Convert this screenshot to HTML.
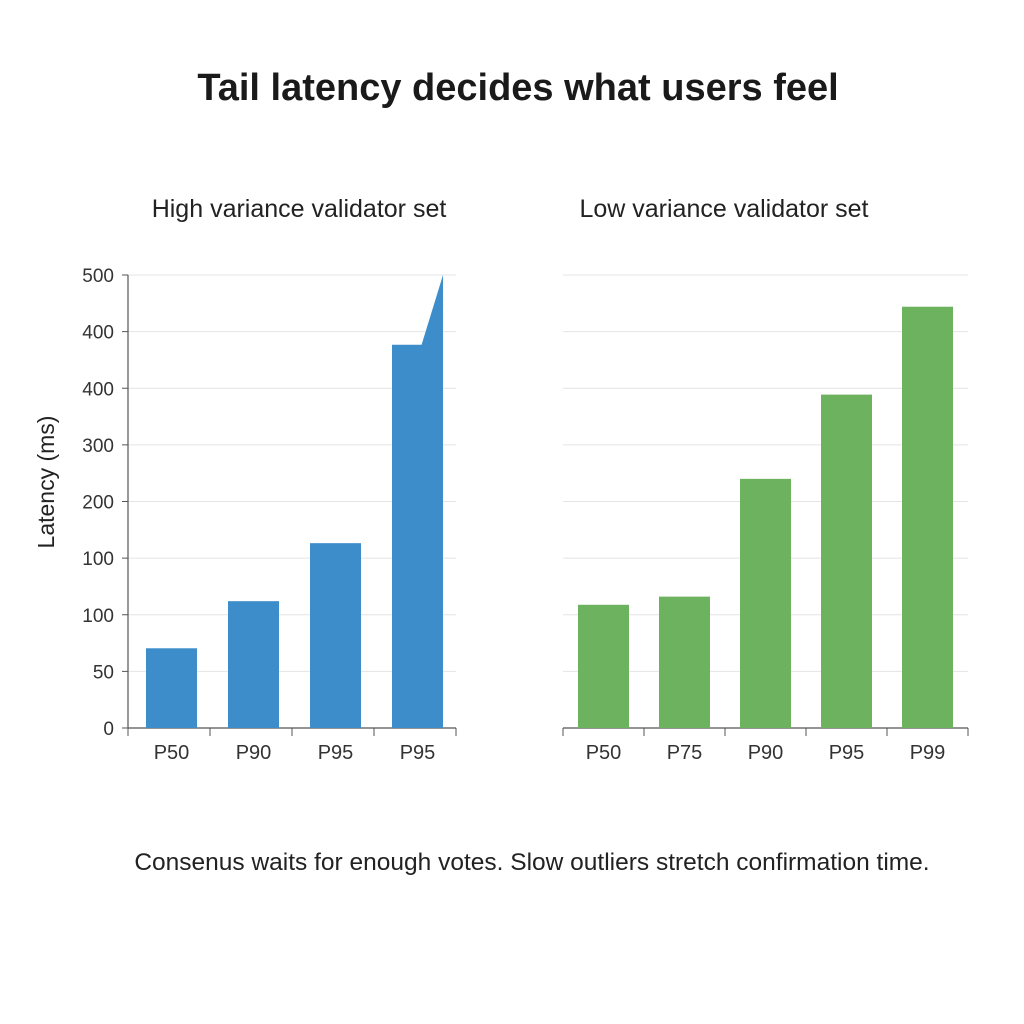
<!DOCTYPE html>
<html><head><meta charset="utf-8"><style>
body{margin:0;background:#fff;}
svg{display:block;font-family:"Liberation Sans",sans-serif;}
</style></head><body>
<svg id="c" width="1024" height="1024" viewBox="0 0 1024 1024">
<rect width="1024" height="1024" fill="#fff"/>
<text x="518" y="100" text-anchor="middle" font-size="38" font-weight="bold" fill="#1a1a1a">Tail latency decides what users feel</text>
<text x="299" y="217" text-anchor="middle" font-size="25" fill="#222">High variance validator set</text>
<text x="724" y="217" text-anchor="middle" font-size="25" fill="#222">Low variance validator set</text>
<text transform="translate(54,482) rotate(-90)" text-anchor="middle" font-size="23" fill="#222">Latency (ms)</text>
<text x="532" y="870" text-anchor="middle" font-size="24.5" fill="#222">Consenus waits for enough votes. Slow outliers stretch confirmation time.</text>
<g id="g"></g>
</svg>
<script>
const tickLabels=["0","50","100","100","200","300","400","400","500"];
const leftCats=["P50","P90","P95","P95"];
const leftVals=[88,140,204,423];
const leftPeak=500;
const rightCats=["P50","P75","P90","P95","P99"];
const rightVals=[136,145,275,368,465];

const NS="http://www.w3.org/2000/svg";
const g=document.getElementById('g');
const y0=728,y1=275,vmax=500;
const y=v=>y0-(v/vmax)*(y0-y1);
function el(t,a,txt){const e=document.createElementNS(NS,t);for(const k in a)e.setAttribute(k,a[k]);if(txt!==undefined)e.textContent=txt;g.appendChild(e);return e;}
function panel(x0,x1,cats,vals,color,pref,showLabels,peak,off){
  const n=tickLabels.length;
  tickLabels.forEach((l,i)=>{
    const v=i*vmax/(n-1);
    const gl=el('line',{x1:x0,x2:x1,y1:y(v),y2:y(v),stroke:'#e4e4e4','stroke-width':1});
    
    
    if(showLabels){
      const t=el('text',{x:x0-14,y:y(v)+7,'text-anchor':'end','font-size':19,fill:'#333'},l);
      
      
      const tk=el('line',{x1:x0-6,x2:x0,y1:y(v),y2:y(v),stroke:'#555'});
      
      
    }
  });
  if(showLabels){
    const ax=el('line',{x1:x0,x2:x0,y1:y1,y2:y0,stroke:'#555','stroke-width':1.2});
    
    
  }
  const xa=el('line',{x1:x0,x2:x1,y1:y0,y2:y0,stroke:'#555','stroke-width':1.2});
  
  
  const step=(x1-x0)/cats.length,bw=51;
  for(let i=0;i<=cats.length;i++){
    const tk=el('line',{x1:x0+i*step,x2:x0+i*step,y1:y0,y2:y0+8,stroke:'#555'});
    
    
  }
  cats.forEach((c,i)=>{
    const cx=x0+step*(i+0.5)+off,bx=cx-bw/2;
    let b;
    if(peak!==undefined&&i===cats.length-1){
      const pts=[[bx,y0],[bx,y(vals[i])],[bx+bw*0.58,y(vals[i])],[bx+bw,y(peak)],[bx+bw,y0]];
      b=el('polygon',{points:pts.map(p=>p.join(',')).join(' '),fill:color});
    } else b=el('rect',{x:bx,y:y(vals[i]),width:bw,height:y0-y(vals[i]),fill:color});
    
    
    const t=el('text',{x:cx,y:y0+31,'text-anchor':'middle','font-size':20,fill:'#333'},c);
    
    
  });
}
panel(128,456,leftCats,leftVals,'#3d8dcb','left',true,leftPeak,2.5);
panel(563,968,rightCats,rightVals,'#6db35f','right',false,undefined,0);
</script>
</body></html>
